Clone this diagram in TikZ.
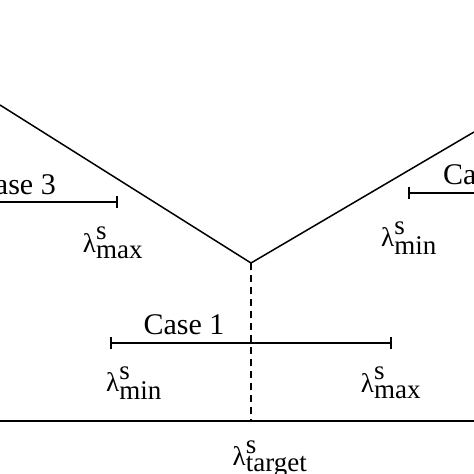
\documentclass[tikz,border=0pt]{standalone}
\usepackage{fontspec}
\setmainfont{Liberation Serif}
\newcommand{\lam}[1]{$\mbox{λ}^{\mbox{s}}_{\mbox{#1}}$}
\tikzset{
  bar/.style={line width=2.2pt},
  lab/.style={font=\fontsize{30}{34}\selectfont, inner sep=0pt},
  lbl/.style={font=\fontsize{27}{32}\selectfont, inner sep=0pt},
}
\begin{document}
\begin{tikzpicture}[x=1pt, y=-1pt]
        \useasboundingbox (0,0) rectangle (474,474);
        \clip (0,0) rectangle (474,474);

        \coordinate (v) at (251,263);
        \coordinate (l) at (0,105);
        \coordinate (r) at (474,132);
        \coordinate (f) at (251,421);

        \draw[line width=1.5pt] (l) -- (v) -- (r);
        \draw[line width=2pt, dash pattern=on 7pt off 5pt] (v) -- (f);
        \draw[line width=2.2pt] (0,421) -- (474,421);

        % case 1
        \draw[bar, |-|] (110,343) coordinate (a1) -- (392,343) coordinate (b1);
        \node[lab] (c1) at (184,325) {Case 1};
        \node[lbl] (min1) at (134,383) {\lam{min}};
        \node[lbl] (max1) at (391,383) {\lam{max}};

        % case 3
        \draw[bar, -|] (-10,202) -- (118,202) coordinate (b3);
        \node[lab, anchor=east] (c3) at (56,185) {Case 3};
        \node[lbl] (max3) at (113,243) {\lam{max}};

        % case 2
        \draw[bar, |-] (408,193) coordinate (a2) -- (484,193);
        \node[lab, anchor=west] (c2) at (443,175) {Case 2};
        \node[lbl] (min2) at (409,238) {\lam{min}};

        \node[lbl] (tgt) at (270,459) {\lam{target}};
    \end{tikzpicture}
\end{document}
